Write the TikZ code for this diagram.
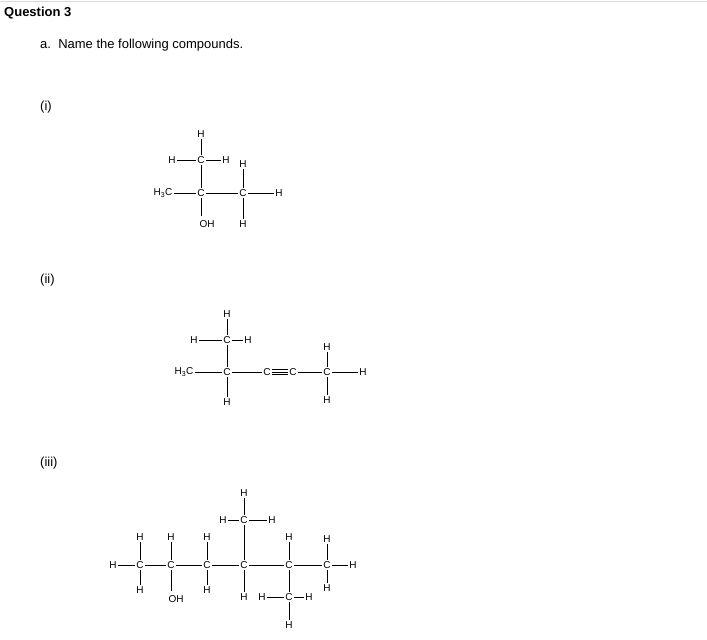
\documentclass[tikz,border=0pt]{standalone}
\usepackage{fontspec}
\setmainfont{Liberation Sans}
\begin{document}
\begin{tikzpicture}[x=1pt,y=-1pt,
  atom/.style={font=\fontsize{10}{10}\selectfont, inner sep=1.3pt},
  bond/.style={line width=0.8pt},
  lbl/.style={font=\fontsize{13}{13}\selectfont, anchor=west, inner sep=0pt}]
\useasboundingbox[fill=white] (0,0) rectangle (707,640);
\draw[gray!30] (0,1.5) -- (707,1.5);
\node[anchor=west,inner sep=0pt,font=\fontsize{13}{13}\selectfont\bfseries] (q) at (4,13) {Question 3};
\node[lbl] (a) at (40,45) {a.\ \ Name the following compounds.};
\node[lbl] (l1) at (40,107) {(i)};
\node[lbl] (l2) at (40,280) {(ii)};
\node[lbl] (l3) at (40,463) {(iii)};
% (i)
\node[atom] (i1) at (201,134) {H};
\node[atom] (i2) at (172,160) {H};
\node[atom] (i3) at (201,160) {C};
\node[atom] (i4) at (226,160) {H};
\node[atom] (i5) at (243,164) {H};
\node[atom] (i6) at (163,193) {H\textsubscript{3}C};
\node[atom] (i7) at (201,193) {C};
\node[atom] (i8) at (243,193) {C};
\node[atom] (i9) at (279,193) {H};
\node[atom] (i10) at (207,224) {OH};
\node[atom] (i11) at (243,224) {H};
\draw[bond] (i1)--(i3) (i2)--(i3) (i3)--(i4) (i3)--(i7) (i6)--(i7) (i7)--(i8) (i8)--(i9) (i5)--(i8) (i8)--(i11);
\draw[bond] (i7) -- (201,216);
% (ii)
\node[atom] (j1) at (227,314) {H};
\node[atom] (j2) at (194,340) {H};
\node[atom] (j3) at (227,340) {C};
\node[atom] (j4) at (248,340) {H};
\node[atom] (j5) at (184,372) {H\textsubscript{3}C};
\node[atom] (j6) at (227,372) {C};
\node[atom] (j7) at (267,372) {C};
\node[atom] (j8) at (293,372) {C};
\node[atom] (j9) at (327,372) {C};
\node[atom] (j10) at (363,372) {H};
\node[atom] (j11) at (327,347) {H};
\node[atom] (j12) at (327,400) {H};
\node[atom] (j13) at (227,402) {H};
\draw[bond] (j1)--(j3) (j2)--(j3) (j3)--(j4) (j3)--(j6) (j5)--(j6) (j6)--(j7) (j8)--(j9) (j9)--(j10) (j11)--(j9) (j9)--(j12) (j6)--(j13);
\foreach \d in {-2.8,0,2.8}{\draw[bond] ([yshift=\d]j7.east) -- ([yshift=\d]j8.west);}
% (iii)
\node[atom] (k1) at (244,493) {H};
\node[atom] (k2) at (223,520) {H};
\node[atom] (k3) at (244,520) {C};
\node[atom] (k4) at (272,520) {H};
\node[atom] (c0) at (113,565) {H};
\node[atom] (c1) at (140,565) {C};
\node[atom] (c2) at (171,565) {C};
\node[atom] (c3) at (207,565) {C};
\node[atom] (c4) at (244,565) {C};
\node[atom] (c5) at (289,565) {C};
\node[atom] (c6) at (327,565) {C};
\node[atom] (c7) at (353,565) {H};
\node[atom] (u1) at (140,537) {H};
\node[atom] (u2) at (171,537) {H};
\node[atom] (u3) at (207,537) {H};
\node[atom] (u5) at (289,537) {H};
\node[atom] (u6) at (327,539) {H};
\node[atom] (d1) at (140,590) {H};
\node[atom] (d2) at (176,599) {OH};
\node[atom] (d3) at (207,590) {H};
\node[atom] (d4) at (244,597) {H};
\node[atom] (d6) at (327,588) {H};
\node[atom] (m1) at (262,597) {H};
\node[atom] (m2) at (289,597) {C};
\node[atom] (m3) at (309,597) {H};
\node[atom] (m4) at (289,625) {H};
\draw[bond] (k1)--(k3) (k2)--(k3) (k3)--(k4) (k3)--(c4)
 (c0)--(c1) (c1)--(c2) (c2)--(c3) (c3)--(c4) (c4)--(c5) (c5)--(c6) (c6)--(c7)
 (u1)--(c1) (u2)--(c2) (u3)--(c3) (u5)--(c5) (u6)--(c6)
 (c1)--(d1) (c3)--(d3) (c4)--(d4) (c6)--(d6)
 (c5)--(m2) (m1)--(m2) (m2)--(m3) (m2)--(m4);
\draw[bond] (c2) -- (171,591);
\end{tikzpicture}
\end{document}
